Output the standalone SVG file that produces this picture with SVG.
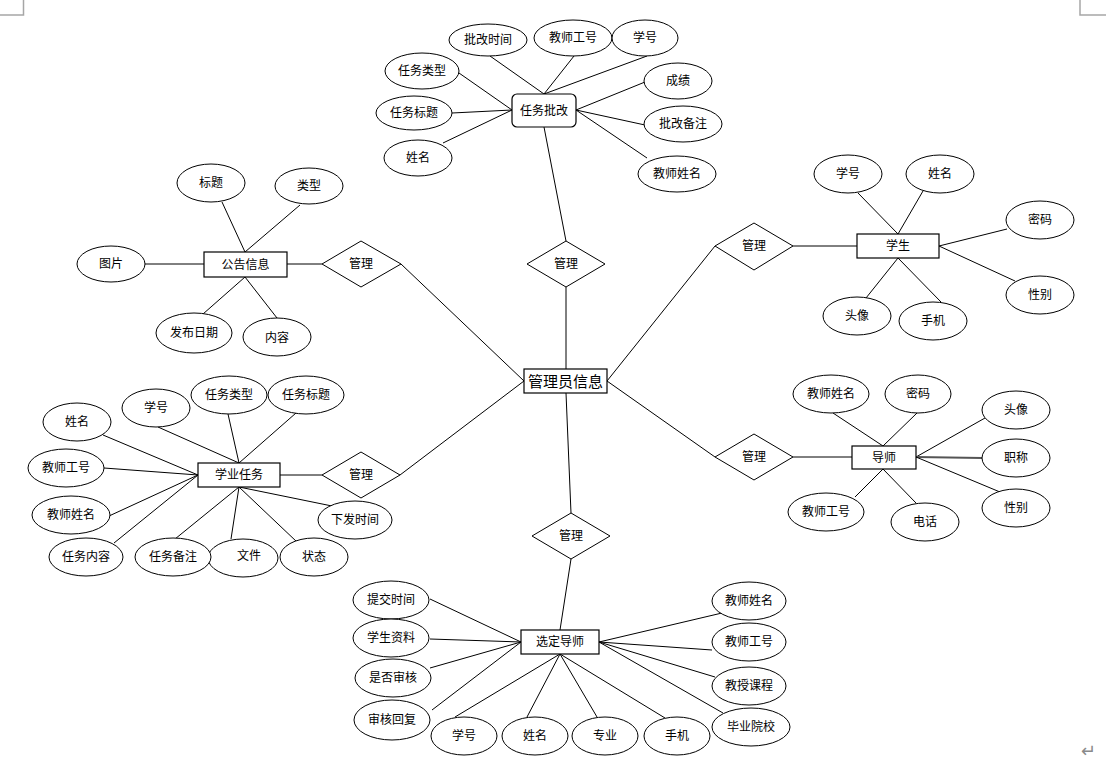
<svg xmlns="http://www.w3.org/2000/svg" width="1106" height="760" viewBox="0 0 1106 760">
<style>
text{font-family:"Liberation Sans","Noto Sans CJK SC",sans-serif;font-size:12px;fill:#000;text-anchor:middle;dominant-baseline:central}
.e{fill:#fff;stroke:#000;stroke-width:1}
.r{fill:#fff;stroke:#000;stroke-width:1.2}
.d{fill:#fff;stroke:#000;stroke-width:1}
#links line{stroke:#000;stroke-width:1}
.big{font-size:15px}
.pm{stroke:#a6a6a6;stroke-width:1.5;fill:none}
</style>
<rect width="1106" height="760" fill="#fff"/>
<path class="pm" d="M0,15 H23.5 V0 M1106,15 H1080 V0"/>
<text x="1088" y="751" style="font-size:18px;fill:#8a8a8a">↵</text>

<g id="links">
<!-- 任务批改 -->
<line x1="490" y1="56" x2="544" y2="94"/>
<line x1="574" y1="56" x2="544" y2="94"/>
<line x1="647" y1="56" x2="544" y2="94"/>
<line x1="459" y1="73" x2="512" y2="110"/>
<line x1="452" y1="113" x2="512" y2="110"/>
<line x1="443" y1="143" x2="512" y2="110"/>
<line x1="645" y1="82" x2="576" y2="110"/>
<line x1="645" y1="125" x2="576" y2="110"/>
<line x1="647" y1="158" x2="576" y2="110"/>
<line x1="544" y1="127" x2="566" y2="241"/>
<line x1="566" y1="287" x2="566" y2="369"/>
<!-- 公告信息 -->
<line x1="222" y1="202" x2="245" y2="252"/>
<line x1="300" y1="205" x2="245" y2="252"/>
<line x1="145" y1="264" x2="204" y2="264"/>
<line x1="203" y1="314" x2="245" y2="277"/>
<line x1="277" y1="318" x2="245" y2="277"/>
<line x1="287" y1="264" x2="322" y2="264"/>
<line x1="401" y1="264" x2="524" y2="381"/>
<!-- 学生 -->
<line x1="858" y1="193" x2="898" y2="234"/>
<line x1="923" y1="191" x2="898" y2="234"/>
<line x1="1007" y1="229" x2="939" y2="246"/>
<line x1="1015" y1="281" x2="939" y2="246"/>
<line x1="866" y1="298" x2="898" y2="258"/>
<line x1="941" y1="302" x2="898" y2="258"/>
<line x1="793" y1="246" x2="857" y2="246"/>
<line x1="715" y1="246" x2="607" y2="381"/>
<!-- 导师 -->
<line x1="833" y1="413" x2="883" y2="446"/>
<line x1="917" y1="413" x2="883" y2="446"/>
<line x1="985" y1="418" x2="916" y2="457"/>
<line x1="982" y1="458" x2="916" y2="457" style="stroke:#555;stroke-width:2"/>
<line x1="1000" y1="492" x2="916" y2="457"/>
<line x1="855" y1="497" x2="883" y2="469"/>
<line x1="916" y1="503" x2="883" y2="469"/>
<line x1="793" y1="457" x2="852" y2="457"/>
<line x1="715" y1="457" x2="607" y2="381"/>
<!-- 学业任务 -->
<line x1="158" y1="427" x2="239" y2="463"/>
<line x1="228" y1="414" x2="239" y2="463"/>
<line x1="296" y1="413" x2="239" y2="463"/>
<line x1="103" y1="435" x2="198" y2="475"/>
<line x1="104" y1="468" x2="198" y2="475"/>
<line x1="109" y1="516" x2="198" y2="475"/>
<line x1="114" y1="543" x2="198" y2="475"/>
<line x1="175" y1="539" x2="239" y2="487"/>
<line x1="231" y1="539" x2="239" y2="487"/>
<line x1="297" y1="542" x2="239" y2="487"/>
<line x1="332" y1="506" x2="239" y2="487"/>
<line x1="280" y1="475" x2="322" y2="475"/>
<line x1="400" y1="475" x2="524" y2="381"/>
<!-- 选定导师 -->
<line x1="566" y1="393" x2="571" y2="513"/>
<line x1="571" y1="559" x2="560" y2="630"/>
<line x1="430" y1="599" x2="521" y2="642"/>
<line x1="430" y1="639" x2="521" y2="642"/>
<line x1="430" y1="668" x2="521" y2="642"/>
<line x1="432" y1="710" x2="521" y2="642"/>
<line x1="455" y1="717" x2="560" y2="654"/>
<line x1="527" y1="717" x2="560" y2="654"/>
<line x1="597" y1="717" x2="560" y2="654"/>
<line x1="665" y1="718" x2="560" y2="654"/>
<line x1="722" y1="613" x2="599" y2="642"/>
<line x1="712" y1="650" x2="599" y2="642"/>
<line x1="715" y1="677" x2="599" y2="642"/>
<line x1="723" y1="713" x2="599" y2="642"/>
</g>

<!-- central entity -->
<g id="admin">
<rect class="r" x="524" y="369" width="83" height="24"/>
<text class="big" x="565.5" y="381">管理员信息</text>
</g>

<!-- relationships -->
<g id="rel-top"><polygon class="d" points="566,241 605,264 566,287 527,264"/><text x="566" y="264">管理</text></g>
<g id="rel-notice"><polygon class="d" points="361,241 401,264 361,287 322,264"/><text x="361" y="264">管理</text></g>
<g id="rel-student"><polygon class="d" points="754,223 793,246 754,270 715,246"/><text x="754" y="246">管理</text></g>
<g id="rel-tutor"><polygon class="d" points="754,434 793,457 754,480 715,457"/><text x="754" y="457">管理</text></g>
<g id="rel-task"><polygon class="d" points="361,452 400,475 361,498 322,475"/><text x="361" y="475">管理</text></g>
<g id="rel-select"><polygon class="d" points="571,513 610,536 571,559 532,536"/><text x="571" y="536">管理</text></g>

<!-- 任务批改 -->
<g id="grading"><rect class="r" x="512" y="94" width="64" height="33" rx="5"/><text x="544" y="110.5">任务批改</text></g>
<g id="g-a1"><ellipse class="e" cx="488" cy="40" rx="39" ry="16"/><text x="488" y="40">批改时间</text></g>
<g id="g-a2"><ellipse class="e" cx="573" cy="38" rx="39" ry="18"/><text x="573" y="38">教师工号</text></g>
<g id="g-a3"><ellipse class="e" cx="645" cy="38" rx="33" ry="18"/><text x="645" y="38">学号</text></g>
<g id="g-a4"><ellipse class="e" cx="422" cy="71" rx="37" ry="18"/><text x="422" y="71">任务类型</text></g>
<g id="g-a5"><ellipse class="e" cx="678" cy="81" rx="34" ry="18"/><text x="678" y="81">成绩</text></g>
<g id="g-a6"><ellipse class="e" cx="414" cy="113" rx="38" ry="17"/><text x="414" y="113">任务标题</text></g>
<g id="g-a7"><ellipse class="e" cx="683" cy="124" rx="39" ry="18"/><text x="683" y="124">批改备注</text></g>
<g id="g-a8"><ellipse class="e" cx="418" cy="158" rx="34" ry="18"/><text x="418" y="158">姓名</text></g>
<g id="g-a9"><ellipse class="e" cx="677" cy="174" rx="39" ry="18"/><text x="677" y="174">教师姓名</text></g>

<!-- 公告信息 -->
<g id="notice"><rect class="r" x="204" y="252" width="83" height="25"/><text x="245.5" y="264.5">公告信息</text></g>
<g id="n-a1"><ellipse class="e" cx="211" cy="183" rx="34" ry="19"/><text x="211" y="183">标题</text></g>
<g id="n-a2"><ellipse class="e" cx="309" cy="186" rx="34" ry="18"/><text x="309" y="186">类型</text></g>
<g id="n-a3"><ellipse class="e" cx="111" cy="264" rx="34" ry="18"/><text x="111" y="264">图片</text></g>
<g id="n-a4"><ellipse class="e" cx="194" cy="333" rx="38" ry="20"/><text x="194" y="333">发布日期</text></g>
<g id="n-a5"><ellipse class="e" cx="277" cy="337" rx="34" ry="19"/><text x="277" y="338">内容</text></g>

<!-- 学生 -->
<g id="student"><rect class="r" x="857" y="234" width="82" height="24"/><text x="898" y="246">学生</text></g>
<g id="s-a1"><ellipse class="e" cx="848" cy="174" rx="34" ry="19"/><text x="848" y="174">学号</text></g>
<g id="s-a2"><ellipse class="e" cx="940" cy="174" rx="34" ry="19"/><text x="940" y="174">姓名</text></g>
<g id="s-a3"><ellipse class="e" cx="1040" cy="220" rx="34" ry="19"/><text x="1040" y="220">密码</text></g>
<g id="s-a4"><ellipse class="e" cx="1040" cy="295" rx="34" ry="19"/><text x="1040" y="295">性别</text></g>
<g id="s-a5"><ellipse class="e" cx="857" cy="316" rx="34" ry="19"/><text x="857" y="316">头像</text></g>
<g id="s-a6"><ellipse class="e" cx="933" cy="321" rx="34" ry="19"/><text x="933" y="321">手机</text></g>

<!-- 导师 -->
<g id="tutor"><rect class="r" x="852" y="446" width="64" height="23"/><text x="884" y="457.5">导师</text></g>
<g id="t-a1"><ellipse class="e" cx="831" cy="394" rx="38" ry="19"/><text x="831" y="394">教师姓名</text></g>
<g id="t-a2"><ellipse class="e" cx="918" cy="394" rx="33" ry="19"/><text x="918" y="394">密码</text></g>
<g id="t-a3"><ellipse class="e" cx="1016" cy="410" rx="34" ry="19"/><text x="1016" y="410">头像</text></g>
<g id="t-a4"><ellipse class="e" cx="1016" cy="458" rx="34" ry="19"/><text x="1016" y="458">职称</text></g>
<g id="t-a5"><ellipse class="e" cx="1016" cy="508" rx="34" ry="19"/><text x="1016" y="508">性别</text></g>
<g id="t-a6"><ellipse class="e" cx="826" cy="512" rx="38" ry="19"/><text x="826" y="512">教师工号</text></g>
<g id="t-a7"><ellipse class="e" cx="925" cy="522" rx="34" ry="19"/><text x="925" y="522">电话</text></g>

<!-- 学业任务 -->
<g id="task"><rect class="r" x="198" y="463" width="82" height="24"/><text x="239" y="475">学业任务</text></g>
<g id="k-a1"><ellipse class="e" cx="156" cy="408" rx="34" ry="19"/><text x="156" y="408">学号</text></g>
<g id="k-a2"><ellipse class="e" cx="229" cy="395" rx="38" ry="19"/><text x="229" y="395">任务类型</text></g>
<g id="k-a3"><ellipse class="e" cx="306" cy="395" rx="38" ry="19"/><text x="306" y="395">任务标题</text></g>
<g id="k-a4"><ellipse class="e" cx="77" cy="422" rx="34" ry="19"/><text x="77" y="422">姓名</text></g>
<g id="k-a5"><ellipse class="e" cx="66" cy="468" rx="38" ry="19"/><text x="66" y="468">教师工号</text></g>
<g id="k-a6"><ellipse class="e" cx="71" cy="515" rx="39" ry="19"/><text x="71" y="515">教师姓名</text></g>
<g id="k-a7"><ellipse class="e" cx="86" cy="557" rx="37" ry="19"/><text x="86" y="557">任务内容</text></g>
<g id="k-a9"><ellipse class="e" cx="243" cy="558" rx="35" ry="19"/><text x="249" y="556">文件</text></g>
<g id="k-a8"><ellipse class="e" cx="173" cy="557" rx="38" ry="19"/><text x="173" y="557">任务备注</text></g>
<g id="k-a10"><ellipse class="e" cx="314" cy="557" rx="34" ry="19"/><text x="314" y="557">状态</text></g>
<g id="k-a11"><ellipse class="e" cx="355" cy="520" rx="37" ry="19"/><text x="355" y="520">下发时间</text></g>

<!-- 选定导师 -->
<g id="select"><rect class="r" x="521" y="630" width="78" height="24"/><text x="560" y="642">选定导师</text></g>
<g id="x-a1"><ellipse class="e" cx="391" cy="600" rx="38" ry="19"/><text x="391" y="600">提交时间</text></g>
<g id="x-a2"><ellipse class="e" cx="391" cy="638" rx="38" ry="19"/><text x="391" y="638">学生资料</text></g>
<g id="x-a3"><ellipse class="e" cx="393" cy="678" rx="38" ry="19"/><text x="393" y="678">是否审核</text></g>
<g id="x-a4"><ellipse class="e" cx="392" cy="720" rx="38" ry="20"/><text x="392" y="720">审核回复</text></g>
<g id="x-a5"><ellipse class="e" cx="464" cy="736" rx="33" ry="19"/><text x="464" y="736">学号</text></g>
<g id="x-a6"><ellipse class="e" cx="535" cy="736" rx="33" ry="19"/><text x="535" y="736">姓名</text></g>
<g id="x-a7"><ellipse class="e" cx="605" cy="736" rx="33" ry="19"/><text x="605" y="736">专业</text></g>
<g id="x-a8"><ellipse class="e" cx="677" cy="736" rx="33" ry="19"/><text x="677" y="736">手机</text></g>
<g id="x-a9"><ellipse class="e" cx="749" cy="601" rx="37" ry="19"/><text x="749" y="601">教师姓名</text></g>
<g id="x-a10"><ellipse class="e" cx="749" cy="642" rx="37" ry="19"/><text x="749" y="642">教师工号</text></g>
<g id="x-a11"><ellipse class="e" cx="749" cy="686" rx="37" ry="19"/><text x="749" y="686">教授课程</text></g>
<g id="x-a12"><ellipse class="e" cx="751" cy="727" rx="39" ry="19"/><text x="751" y="727">毕业院校</text></g>
</svg>
